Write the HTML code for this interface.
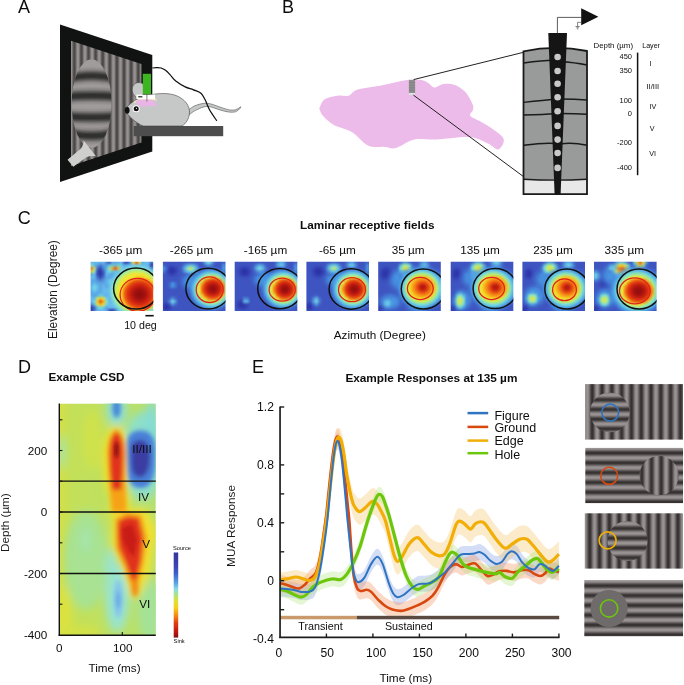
<!DOCTYPE html>
<html><head><meta charset="utf-8"><title>Figure</title>
<style>
html,body{margin:0;padding:0;background:#fff;}
body{width:684px;height:685px;overflow:hidden;}
svg{display:block;font-family:"Liberation Sans", sans-serif;}
</style></head><body>
<svg width="684" height="685" viewBox="0 0 684 685">
<defs>
<linearGradient id="gvE" x1="0" x2="1" y1="0" y2="0"><stop offset="0.0000" stop-color="#9c9796"/><stop offset="0.0833" stop-color="#969190"/><stop offset="0.1667" stop-color="#85807f"/><stop offset="0.2500" stop-color="#6c6766"/><stop offset="0.3333" stop-color="#514d4c"/><stop offset="0.4167" stop-color="#3b3736"/><stop offset="0.5000" stop-color="#302c2b"/><stop offset="0.5833" stop-color="#3b3736"/><stop offset="0.6667" stop-color="#514d4c"/><stop offset="0.7500" stop-color="#6c6766"/><stop offset="0.8333" stop-color="#85807f"/><stop offset="0.9167" stop-color="#969190"/><stop offset="1.0000" stop-color="#9c9796"/></linearGradient>
<linearGradient id="ghE" x1="0" x2="0" y1="0" y2="1"><stop offset="0.0000" stop-color="#9c9796"/><stop offset="0.0833" stop-color="#969190"/><stop offset="0.1667" stop-color="#85807f"/><stop offset="0.2500" stop-color="#6c6766"/><stop offset="0.3333" stop-color="#514d4c"/><stop offset="0.4167" stop-color="#3b3736"/><stop offset="0.5000" stop-color="#302c2b"/><stop offset="0.5833" stop-color="#3b3736"/><stop offset="0.6667" stop-color="#514d4c"/><stop offset="0.7500" stop-color="#6c6766"/><stop offset="0.8333" stop-color="#85807f"/><stop offset="0.9167" stop-color="#969190"/><stop offset="1.0000" stop-color="#9c9796"/></linearGradient>
<linearGradient id="gvA" x1="0" x2="1" y1="0" y2="0"><stop offset="0.0000" stop-color="#9a9695"/><stop offset="0.0833" stop-color="#959190"/><stop offset="0.1667" stop-color="#878483"/><stop offset="0.2500" stop-color="#74706f"/><stop offset="0.3333" stop-color="#5e5b5a"/><stop offset="0.4167" stop-color="#4d4a49"/><stop offset="0.5000" stop-color="#444140"/><stop offset="0.5833" stop-color="#4d4a49"/><stop offset="0.6667" stop-color="#5e5b5a"/><stop offset="0.7500" stop-color="#74706f"/><stop offset="0.8333" stop-color="#878483"/><stop offset="0.9167" stop-color="#959190"/><stop offset="1.0000" stop-color="#9a9695"/></linearGradient>
<linearGradient id="ghA" x1="0" x2="0" y1="0" y2="1"><stop offset="0.0000" stop-color="#9c9897"/><stop offset="0.0833" stop-color="#959190"/><stop offset="0.1667" stop-color="#827f7e"/><stop offset="0.2500" stop-color="#686564"/><stop offset="0.3333" stop-color="#4c4a49"/><stop offset="0.4167" stop-color="#363433"/><stop offset="0.5000" stop-color="#2c2a29"/><stop offset="0.5833" stop-color="#363433"/><stop offset="0.6667" stop-color="#4c4a49"/><stop offset="0.7500" stop-color="#686564"/><stop offset="0.8333" stop-color="#827f7e"/><stop offset="0.9167" stop-color="#959190"/><stop offset="1.0000" stop-color="#9c9897"/></linearGradient>
<pattern id="pAv" patternUnits="userSpaceOnUse" x="106.25" y="0" width="7.1" height="200"><rect width="7.2" height="200" fill="url(#gvA)"/></pattern>
<pattern id="pAh" patternUnits="userSpaceOnUse" x="0" y="67" width="200" height="20"><rect width="200" height="20.1" fill="url(#ghA)"/></pattern>
<clipPath id="clipAscreen"><polygon points="71,40.7 141.4,63.9 141.4,142.6 71,166"/></clipPath>

<clipPath id="clipAell"><ellipse cx="91.6" cy="103.6" rx="20" ry="44.3"/></clipPath><filter id="blA" x="-10%" y="-50%" width="120%" height="200%"><feGaussianBlur stdDeviation="2.9"/></filter>

<radialGradient id="gHalo"><stop offset="0" stop-color="#f6e428"/><stop offset="0.5" stop-color="#f4e62c"/><stop offset="0.58" stop-color="#b4ee74"/><stop offset="0.66" stop-color="#7ce4dc"/><stop offset="0.8" stop-color="#4aa6ea" stop-opacity="0.9"/><stop offset="1" stop-color="#3e54c0" stop-opacity="0"/></radialGradient>
<radialGradient id="gCore"><stop offset="0" stop-color="#860d0c"/><stop offset="0.32" stop-color="#a81210"/><stop offset="0.5" stop-color="#cc2010"/><stop offset="0.7" stop-color="#e43c10"/><stop offset="0.85" stop-color="#f47c14"/><stop offset="0.94" stop-color="#f8c01e" stop-opacity="0.9"/><stop offset="1" stop-color="#f4e42a" stop-opacity="0"/></radialGradient>
<radialGradient id="gCore2"><stop offset="0" stop-color="#7a0b0b"/><stop offset="0.12" stop-color="#b01410"/><stop offset="0.3" stop-color="#de3210"/><stop offset="0.55" stop-color="#f47c14"/><stop offset="0.8" stop-color="#f8b81c" stop-opacity="0.95"/><stop offset="1" stop-color="#f4e42a" stop-opacity="0"/></radialGradient>
<radialGradient id="gSpotY"><stop offset="0" stop-color="#f2e030"/><stop offset="0.3" stop-color="#c8ee60"/><stop offset="0.55" stop-color="#7ce4dc"/><stop offset="0.8" stop-color="#4aa6ea" stop-opacity="0.7"/><stop offset="1" stop-color="#3e54c0" stop-opacity="0"/></radialGradient>
<radialGradient id="gSpotO"><stop offset="0" stop-color="#e23a10"/><stop offset="0.25" stop-color="#f59a14"/><stop offset="0.45" stop-color="#f2e030"/><stop offset="0.68" stop-color="#7ce4dc"/><stop offset="0.85" stop-color="#4aa6ea" stop-opacity="0.7"/><stop offset="1" stop-color="#3e54c0" stop-opacity="0"/></radialGradient>
<radialGradient id="gHaloW"><stop offset="0" stop-color="#f6e428"/><stop offset="0.6" stop-color="#f2e630"/><stop offset="0.7" stop-color="#c0ee68"/><stop offset="0.8" stop-color="#84e6d4"/><stop offset="0.9" stop-color="#6cc4ee" stop-opacity="0.8"/><stop offset="1" stop-color="#62b6ea" stop-opacity="0"/></radialGradient>
<radialGradient id="gSpotCy"><stop offset="0" stop-color="#ece43a"/><stop offset="0.14" stop-color="#b4ec7c"/><stop offset="0.32" stop-color="#80e4dc"/><stop offset="0.68" stop-color="#52a8ea" stop-opacity="0.8"/><stop offset="1" stop-color="#3e54c0" stop-opacity="0"/></radialGradient>
<radialGradient id="gSpotC"><stop offset="0" stop-color="#86e6de"/><stop offset="0.45" stop-color="#5ab8ee" stop-opacity="0.9"/><stop offset="1" stop-color="#3e54c0" stop-opacity="0"/></radialGradient>
<radialGradient id="gSpotL"><stop offset="0" stop-color="#4ea4ea"/><stop offset="0.5" stop-color="#469ae6" stop-opacity="0.8"/><stop offset="1" stop-color="#3e54c0" stop-opacity="0"/></radialGradient>
<radialGradient id="gDark"><stop offset="0" stop-color="#2a2c9e"/><stop offset="0.5" stop-color="#2e38ae" stop-opacity="0.85"/><stop offset="1" stop-color="#3e54c0" stop-opacity="0"/></radialGradient>

<filter id="pix" filterUnits="userSpaceOnUse" x="-3" y="-3" width="71.6" height="58.1" color-interpolation-filters="sRGB">
<feFlood x="-2" y="-2" width="1" height="1"/><feComposite x="-3" y="-3" width="3" height="3"/><feTile result="a"/>
<feComposite in="SourceGraphic" in2="a" operator="in"/><feMorphology operator="dilate" radius="1"/><feGaussianBlur stdDeviation="0.85"/></filter>

<clipPath id="cH0"><rect x="0.60" y="0.80" width="62.6" height="49.1"/></clipPath>
<clipPath id="cH1"><rect x="0.90" y="0.80" width="62.6" height="49.1"/></clipPath>
<clipPath id="cH2"><rect x="0.70" y="0.80" width="62.6" height="49.1"/></clipPath>
<clipPath id="cH3"><rect x="0.40" y="0.80" width="62.6" height="49.1"/></clipPath>
<clipPath id="cH4"><rect x="0.20" y="0.80" width="62.6" height="49.1"/></clipPath>
<clipPath id="cH5"><rect x="0.70" y="0.80" width="62.6" height="49.1"/></clipPath>
<clipPath id="cH6"><rect x="0.40" y="0.80" width="62.6" height="49.1"/></clipPath>
<clipPath id="cH7"><rect x="0.00" y="0.80" width="62.6" height="49.1"/></clipPath>
<clipPath id="cD"><rect x="60" y="403.5" width="95.80000000000001" height="231.5"/></clipPath>
<filter id="blD" x="-20%" y="-20%" width="140%" height="140%"><feGaussianBlur stdDeviation="2.2"/></filter>
<filter id="blD2" x="-20%" y="-20%" width="140%" height="140%"><feGaussianBlur stdDeviation="4"/></filter>
<linearGradient id="gDbg" x1="0" x2="1" y1="0" y2="0"><stop offset="0" stop-color="#d2e048"/><stop offset="0.12" stop-color="#c4e058"/><stop offset="0.5" stop-color="#bee060"/><stop offset="1" stop-color="#b4e070"/></linearGradient>
<linearGradient id="gCbar" x1="0" x2="0" y1="0" y2="1">
<stop offset="0" stop-color="#38349a"/><stop offset="0.16" stop-color="#3a44b0"/><stop offset="0.25" stop-color="#3e62c8"/><stop offset="0.36" stop-color="#5aa4e6"/><stop offset="0.43" stop-color="#86dce6"/><stop offset="0.49" stop-color="#a8e48c"/><stop offset="0.57" stop-color="#dce238"/><stop offset="0.65" stop-color="#f6d018"/><stop offset="0.74" stop-color="#f48a12"/><stop offset="0.83" stop-color="#e43a12"/><stop offset="0.94" stop-color="#b81612"/><stop offset="1" stop-color="#7e1010"/></linearGradient>

<filter id="blD3" x="-30%" y="-30%" width="160%" height="160%"><feGaussianBlur stdDeviation="1.6"/></filter>
<pattern id="pV1" patternUnits="userSpaceOnUse" x="587.30" y="0" width="9.8" height="700"><rect width="9.9" height="700" fill="url(#gvE)"/></pattern>
<pattern id="pH1" patternUnits="userSpaceOnUse" x="0" y="394.85" width="700" height="9.7"><rect width="700" height="9.799999999999999" fill="url(#ghE)"/></pattern>
<pattern id="pH2" patternUnits="userSpaceOnUse" x="0" y="448.10" width="700" height="9.8"><rect width="700" height="9.9" fill="url(#ghE)"/></pattern>
<pattern id="pV2" patternUnits="userSpaceOnUse" x="646.65" y="0" width="9.7" height="700"><rect width="9.799999999999999" height="700" fill="url(#gvE)"/></pattern>
<pattern id="pV3" patternUnits="userSpaceOnUse" x="584.80" y="0" width="9.8" height="700"><rect width="9.9" height="700" fill="url(#gvE)"/></pattern>
<pattern id="pH3" patternUnits="userSpaceOnUse" x="0" y="523.52" width="700" height="9.75"><rect width="700" height="9.85" fill="url(#ghE)"/></pattern>
<pattern id="pH4" patternUnits="userSpaceOnUse" x="0" y="580.80" width="700" height="9.8"><rect width="700" height="9.9" fill="url(#ghE)"/></pattern>
</defs>
<rect width="684" height="685" fill="#ffffff"/>
<text x="18" y="12.8" font-size="18" text-anchor="start" font-weight="normal" fill="#0d0d0d" >A</text>
<polygon points="60,24.5 152.3,55 152.3,151.4 60,182" fill="#111312"/>
<g clip-path="url(#clipAscreen)">
<rect x="60" y="20" width="100" height="170" fill="url(#pAv)"/>
<g clip-path="url(#clipAell)"><rect x="60" y="50" width="70" height="110" fill="#a09c9b"/>
<g filter="url(#blA)" fill="none" stroke="#242221" stroke-width="8.2">
<path d="M62,80 Q91.6,71.5 121,80"/><path d="M62,97 Q91.6,94.4 121,97"/><path d="M62,116.2 Q91.6,118.6 121,116.2"/><path d="M62,131.5 Q91.6,140.2 121,131.5"/>
</g></g>
</g>
<path d="M67.5,159.8 L79.8,149.6 Q83.5,146 83.7,140.4 L96,156.3 Q90,155.5 86,157.5 L73.3,166.8 Z" fill="#cfcfce"/>
<rect x="133.7" y="126" width="89.5" height="10.2" fill="#4d4d4d"/>
<path d="M188.8,109.6C189.4,109.2 191.2,107.8 192.5,107.0C193.8,106.2 195.0,105.6 196.9,105.0C198.8,104.4 201.6,103.5 203.9,103.3C206.2,103.1 208.4,103.3 210.9,103.9C213.4,104.5 216.2,105.8 219.1,106.8C222.0,107.8 225.8,109.2 228.5,109.7C231.2,110.2 233.4,110.2 235.5,109.7C237.6,109.2 239.9,107.3 240.8,106.8 L240.2,108.3C239.4,108.9 237.4,111.2 235.5,111.8C233.6,112.4 231.2,112.3 228.5,112.0C225.8,111.7 222.0,110.5 219.1,109.7C216.2,108.9 213.4,107.4 210.9,106.9C208.4,106.4 206.4,106.3 203.9,106.9C201.4,107.5 197.8,109.3 195.7,110.3C193.6,111.3 192.7,112.2 191.5,113.0C190.3,113.8 189.2,114.8 188.8,115.2 Z" fill="#c6c8c7" stroke="#3a3a3a" stroke-width="0.5" stroke-linejoin="round"/>
<path d="M132.4,91 C131.6,85.5 135,82.3 139.5,82.6 C143.5,83 145,86 144.6,90 C144.2,94 141,97.5 138.5,97.6 C135.5,97.5 133,95 132.4,91 Z" fill="#c6c8c7" stroke="#3a3a3a" stroke-width="0.5"/>
<path d="M125,110 C128,104 136,99 146,96 C156,93 168,92.5 176,95.5 C185,99 190,106 189.5,113 C189,119 186,123.5 182,126 L143,126 C136,123 128,116 125,110 Z" fill="#c6c8c7" stroke="#3a3a3a" stroke-width="0.55"/>
<path d="M133.6,101.6 C137,99 145,97.8 156.3,99 L156.8,100.6 C148,99.6 140,100.2 134.4,102.9 Z" fill="#f3e6b8"/>
<path d="M135.6,101.2 C139,99.6 146,99.4 151.6,99.8 C154.5,101 156.5,104 157.8,106.8 C155.5,105.6 153,105.4 150,106 C147,106.8 144,107 141.5,106.6 C138.5,105.8 136.5,103.5 135.6,101.2 Z" fill="#e9b4e6"/>
<rect x="136.3" y="94.6" width="18.8" height="4.6" fill="#ffffff"/>
<rect x="138.2" y="96.2" width="4.2" height="1.2" fill="#222"/>
<rect x="142.8" y="73.8" width="8.2" height="20.3" fill="#3db522"/>
<line x1="146.9" y1="94" x2="146.9" y2="101.5" stroke="#666" stroke-width="0.8"/>
<ellipse cx="127.2" cy="110.3" rx="2.4" ry="3.4" fill="#111"/>
<circle cx="136.2" cy="108.7" r="3.5" fill="#fff"/>
<circle cx="136.2" cy="108.7" r="2.5" fill="#111"/>
<circle cx="136.5" cy="108.3" r="0.6" fill="#fff"/>
<path d="M152.3,68.0C153.0,67.9 155.1,67.6 156.5,67.6C157.9,67.6 159.5,67.5 161.0,68.0C162.5,68.5 164.0,69.2 165.5,70.3C167.0,71.4 168.3,72.8 170.0,74.6C171.7,76.4 173.3,79.0 175.8,81.1C178.3,83.1 182.3,85.5 185.2,86.9C188.1,88.4 190.8,88.7 193.4,89.8C196.0,90.9 199.1,91.6 201.0,93.3C202.9,95.0 203.6,97.0 205.1,99.8C206.6,102.6 207.9,106.8 209.8,110.3C211.8,113.8 215.6,119.0 216.8,120.8" fill="none" stroke="#111" stroke-width="1.25"/>
<text x="282" y="12.8" font-size="18" text-anchor="start" font-weight="normal" fill="#0d0d0d" >B</text>
<path d="M319.2,108.5C320.1,107.0 321.6,101.4 324.7,99.3C327.8,97.2 333.5,96.3 337.5,95.7C341.5,95.1 345.1,96.7 348.5,95.7C351.9,94.7 352.1,91.2 357.6,89.5C363.1,87.8 373.2,87.1 381.4,85.5C389.6,83.9 400.3,80.9 407.0,80.0C413.7,79.1 418.0,79.4 421.6,80.0C425.2,80.6 426.8,82.3 428.9,83.6C431.0,84.9 432.0,87.5 434.4,87.6C436.8,87.7 440.1,84.5 443.5,84.0C446.9,83.5 450.9,83.4 454.5,84.7C458.1,86.0 462.3,88.7 465.4,92.0C468.4,95.3 471.6,101.8 472.8,104.8C474.0,107.8 473.2,108.5 472.8,110.3C472.4,112.1 469.0,114.0 470.2,115.8C471.4,117.6 475.9,118.9 480.0,121.3C484.1,123.7 490.7,127.4 494.7,130.4C498.7,133.4 503.2,136.3 503.8,139.5C504.4,142.7 501.0,148.8 498.3,149.4C495.6,150.0 492.3,145.3 487.4,143.2C482.5,141.1 477.6,137.6 469.1,137.0C460.6,136.4 445.3,139.1 436.2,139.5C427.1,139.9 421.0,138.1 414.3,139.5C407.6,140.9 400.9,146.8 396.0,148.0C391.1,149.2 389.6,147.3 385.0,146.9C380.4,146.5 374.1,148.2 368.6,145.8C363.1,143.4 357.9,135.7 352.1,132.2C346.3,128.7 338.8,127.6 333.9,124.9C329.0,122.2 325.3,118.5 322.9,115.8C320.4,113.1 319.8,109.7 319.2,108.5Z" fill="#edbbe9"/>
<rect x="408.9" y="79.9" width="6.2" height="14.9" fill="#8e908f"/>
<line x1="408.9" x2="415.1" y1="82.6" y2="82.6" stroke="#757575" stroke-width="0.5"/>
<line x1="408.9" x2="415.1" y1="85.2" y2="85.2" stroke="#757575" stroke-width="0.5"/>
<line x1="408.9" x2="415.1" y1="87.8" y2="87.8" stroke="#757575" stroke-width="0.5"/>
<line x1="408.9" x2="415.1" y1="90.4" y2="90.4" stroke="#757575" stroke-width="0.5"/>
<rect x="408.9" y="93.1" width="6.2" height="1.75" fill="#ececec"/>
<line x1="413.6" y1="79.6" x2="523.5" y2="52.3" stroke="#222" stroke-width="1"/>
<line x1="413.4" y1="95.1" x2="523.5" y2="176.6" stroke="#222" stroke-width="1"/>
<path d="M523.5,51.3 Q555.25,44.6 587,51 L587,194.2 L523.5,194.2 Z" fill="#999b9a"/>
<path d="M523.5,179.2 Q555.25,181 587,179.2 L587,194.2 L523.5,194.2 Z" fill="#e8e8e8"/>
<path d="M523.5,63 Q545,60 555,60.3 M560,61.5 Q575,62.5 587,65" fill="none" stroke="#1a1a1a" stroke-width="1.4"/>
<path d="M523.5,102.4 Q545,100 555,99.2 M560,99 Q575,99 587,100" fill="none" stroke="#1a1a1a" stroke-width="1.4"/>
<path d="M523.5,115 Q545,114.5 555,113.8 M560,113.5 Q575,113.5 587,114.2" fill="none" stroke="#1a1a1a" stroke-width="1.4"/>
<path d="M523.5,145.3 Q545,142.5 555,143.5 M560,144 Q572,142 587,145.2" fill="none" stroke="#1a1a1a" stroke-width="1.4"/>
<path d="M523.5,179.2 Q555.25,181 587,179.2" fill="none" stroke="#1a1a1a" stroke-width="1.4"/>
<path d="M523.5,51.3 Q555.25,44.6 587,51 L587,194.2 L523.5,194.2 Z" fill="none" stroke="#1a1a1a" stroke-width="1.8"/>
<polygon points="548.3,33 567,33 560.6,194.2 554.6,194.2" fill="#151515"/>
<circle cx="557.6" cy="57" r="3.3" fill="#c9c9c9"/>
<circle cx="557.6" cy="71" r="3.3" fill="#c9c9c9"/>
<circle cx="557.6" cy="83.8" r="3.3" fill="#c9c9c9"/>
<circle cx="557.6" cy="97.3" r="3.3" fill="#c9c9c9"/>
<circle cx="557.6" cy="111.3" r="3.3" fill="#c9c9c9"/>
<circle cx="557.6" cy="125.9" r="3.3" fill="#c9c9c9"/>
<circle cx="557.6" cy="139.6" r="3.3" fill="#c9c9c9"/>
<circle cx="557.6" cy="153" r="3.3" fill="#c9c9c9"/>
<circle cx="557.6" cy="167.9" r="3.3" fill="#c9c9c9"/>
<path d="M557.4,33 L557.4,17.4 L581.5,17.4" fill="none" stroke="#333" stroke-width="0.8"/>
<polygon points="581.2,8.3 581.2,25.2 598.4,16.8" fill="#111"/>
<path d="M581.2,22.3 L577.6,22.3 L577.6,26.5 M575.5,26.5 L579.7,26.5 M576.3,27.8 L578.9,27.8 M577,29 L578.2,29" fill="none" stroke="#333" stroke-width="0.6"/>
<text x="593.5" y="47.6" font-size="7.2" text-anchor="start" font-weight="normal" fill="#0d0d0d" textLength="39.5" lengthAdjust="spacingAndGlyphs">Depth (µm)</text>
<text x="642.2" y="47.6" font-size="7.2" text-anchor="start" font-weight="normal" fill="#0d0d0d" textLength="17.8" lengthAdjust="spacingAndGlyphs">Layer</text>
<text x="632" y="59.3" font-size="7.5" text-anchor="end" font-weight="normal" fill="#0d0d0d" >450</text>
<text x="632" y="73" font-size="7.5" text-anchor="end" font-weight="normal" fill="#0d0d0d" >350</text>
<text x="632" y="102.5" font-size="7.5" text-anchor="end" font-weight="normal" fill="#0d0d0d" >100</text>
<text x="632" y="116.2" font-size="7.5" text-anchor="end" font-weight="normal" fill="#0d0d0d" >0</text>
<text x="632" y="144.6" font-size="7.5" text-anchor="end" font-weight="normal" fill="#0d0d0d" >-200</text>
<text x="632" y="170.3" font-size="7.5" text-anchor="end" font-weight="normal" fill="#0d0d0d" >-400</text>
<line x1="637.6" y1="52.6" x2="637.6" y2="175.2" stroke="#111" stroke-width="1.5"/>
<text x="650.4" y="65.7" font-size="7.2" text-anchor="middle" font-weight="normal" fill="#0d0d0d" >I</text>
<text x="652.8" y="89" font-size="7.2" text-anchor="middle" font-weight="normal" fill="#0d0d0d" textLength="12.6" lengthAdjust="spacingAndGlyphs">II/III</text>
<text x="653" y="108.6" font-size="7.2" text-anchor="middle" font-weight="normal" fill="#0d0d0d" >IV</text>
<text x="652.2" y="130.5" font-size="7.2" text-anchor="middle" font-weight="normal" fill="#0d0d0d" >V</text>
<text x="652.6" y="156.3" font-size="7.2" text-anchor="middle" font-weight="normal" fill="#0d0d0d" >VI</text>
<text x="17.8" y="223.5" font-size="18" text-anchor="start" font-weight="normal" fill="#0d0d0d" >C</text>
<text x="367.3" y="228.5" font-size="11.75" text-anchor="middle" font-weight="bold" fill="#0d0d0d" >Laminar receptive fields</text>
<text transform="translate(56.7,289.6) rotate(-90)" font-size="11.85" text-anchor="middle" fill="#1a1a1a">Elevation (Degree)</text>
<text x="379.8" y="339" font-size="11.75" text-anchor="middle" font-weight="normal" fill="#0d0d0d" >Azimuth (Degree)</text>
<rect x="145.4" y="314.9" width="8.3" height="1.6" fill="#111"/>
<text x="124.2" y="329.2" font-size="10.5" text-anchor="start" font-weight="normal" fill="#0d0d0d" textLength="32.6" lengthAdjust="spacingAndGlyphs">10 deg</text>
<text x="120.7" y="253.8" font-size="11.75" text-anchor="middle" font-weight="normal" fill="#0d0d0d" >-365 µm</text>
<g transform="translate(90,261)"><g clip-path="url(#cH0)">
<g filter="url(#pix)">
<rect x="-3" y="-3" width="71.6" height="58.1" fill="#66baec"/>
<ellipse cx="10.4" cy="11.8" rx="6" ry="11" fill="url(#gDark)"/>
<ellipse cx="1.6" cy="47.8" rx="5" ry="6" fill="url(#gDark)"/>
<ellipse cx="62.1" cy="5.8" rx="4" ry="8" fill="url(#gDark)"/>
<ellipse cx="22.6" cy="49.8" rx="7" ry="3" fill="url(#gDark)"/>
<ellipse cx="36.6" cy="0.8" rx="5" ry="3" fill="url(#gDark)"/>
<ellipse cx="18.6" cy="2.8" rx="4" ry="3" fill="url(#gDark)"/>
<ellipse cx="30.6" cy="32.8" rx="14" ry="12" fill="url(#gSpotC)"/>
<ellipse cx="4.6" cy="26.8" rx="8" ry="10" fill="url(#gSpotC)"/>
<ellipse cx="20.6" cy="20.8" rx="9" ry="7" fill="url(#gSpotC)"/>
<ellipse cx="25.2" cy="7.8" rx="14" ry="7" fill="url(#gSpotY)"/>
<ellipse cx="25.2" cy="7.7" rx="9.5" ry="3.6" fill="url(#gSpotO)"/>
<ellipse cx="1.9" cy="8.2" rx="5" ry="6" fill="url(#gSpotO)"/>
<ellipse cx="46.6" cy="1.3" rx="7" ry="5" fill="url(#gSpotO)"/>
<ellipse cx="10.8" cy="40.7" rx="9" ry="8.5" fill="url(#gSpotO)"/>
<ellipse cx="47.1" cy="30.3" rx="31" ry="29" fill="url(#gHaloW)"/>
<ellipse cx="49.6" cy="33.3" rx="19" ry="18" fill="url(#gCore)"/>
</g>
<ellipse cx="47.6" cy="33.8" rx="17.5" ry="16.5" fill="none" stroke="#e0241a" stroke-width="1.3"/>
<ellipse cx="46.1" cy="27.6" rx="22.5" ry="20.5" fill="none" stroke="#111" stroke-width="1.5"/>
</g></g>
<text x="191.5" y="253.8" font-size="11.75" text-anchor="middle" font-weight="normal" fill="#0d0d0d" >-265 µm</text>
<g transform="translate(162,261)"><g clip-path="url(#cH1)">
<g filter="url(#pix)">
<rect x="-3" y="-3" width="71.6" height="58.1" fill="#3e54c0"/>
<ellipse cx="9.9" cy="9.8" rx="8" ry="7" fill="url(#gDark)"/>
<ellipse cx="4.9" cy="45.8" rx="7" ry="6" fill="url(#gDark)"/>
<ellipse cx="30.9" cy="20.8" rx="16" ry="12" fill="url(#gSpotL)"/>
<ellipse cx="1.9" cy="7.8" rx="4" ry="5" fill="url(#gSpotL)"/>
<ellipse cx="10.8" cy="24.1" rx="5" ry="5" fill="url(#gSpotL)"/>
<ellipse cx="28.7" cy="7.7" rx="11" ry="7" fill="url(#gSpotCy)"/>
<ellipse cx="10.8" cy="40.5" rx="5.5" ry="5.5" fill="url(#gSpotC)"/>
<ellipse cx="46.6" cy="1.6" rx="8" ry="5" fill="url(#gSpotC)"/>
<ellipse cx="62.4" cy="6.8" rx="4" ry="8" fill="url(#gSpotL)"/>
<ellipse cx="49.4" cy="28.3" rx="24.5" ry="23.5" fill="url(#gHalo)"/>
<ellipse cx="50.9" cy="27.8" rx="13.5" ry="12.5" fill="url(#gCore)"/>
</g>
<ellipse cx="47.7" cy="28.7" rx="13.5" ry="12.8" fill="none" stroke="#e0241a" stroke-width="1.3"/>
<ellipse cx="46.2" cy="27.6" rx="22.3" ry="20.4" fill="none" stroke="#111" stroke-width="1.5"/>
</g></g>
<text x="265.5" y="253.8" font-size="11.75" text-anchor="middle" font-weight="normal" fill="#0d0d0d" >-165 µm</text>
<g transform="translate(234,261)"><g clip-path="url(#cH2)">
<g filter="url(#pix)">
<rect x="-3" y="-3" width="71.6" height="58.1" fill="#3e54c0"/>
<ellipse cx="10.7" cy="10.8" rx="9" ry="8" fill="url(#gDark)"/>
<ellipse cx="8.7" cy="43.8" rx="9" ry="7" fill="url(#gDark)"/>
<ellipse cx="30.7" cy="18.8" rx="16" ry="11" fill="url(#gSpotL)"/>
<ellipse cx="26.0" cy="7.2" rx="9" ry="6.5" fill="url(#gSpotC)"/>
<ellipse cx="47.0" cy="3.3" rx="8" ry="5" fill="url(#gSpotC)"/>
<ellipse cx="11.9" cy="39.9" rx="4.5" ry="4.5" fill="url(#gSpotC)"/>
<ellipse cx="62.2" cy="6.8" rx="4" ry="8" fill="url(#gSpotL)"/>
<ellipse cx="49.2" cy="28.3" rx="23.5" ry="22.5" fill="url(#gHalo)"/>
<ellipse cx="51.0" cy="28.2" rx="12.6" ry="12" fill="url(#gCore)"/>
</g>
<ellipse cx="48.2" cy="28.7" rx="13.1" ry="11.5" fill="none" stroke="#e0241a" stroke-width="1.3"/>
<ellipse cx="45.9" cy="27.6" rx="22.2" ry="20.2" fill="none" stroke="#111" stroke-width="1.5"/>
</g></g>
<text x="337.3" y="253.8" font-size="11.75" text-anchor="middle" font-weight="normal" fill="#0d0d0d" >-65 µm</text>
<g transform="translate(306,261)"><g clip-path="url(#cH3)">
<g filter="url(#pix)">
<rect x="-3" y="-3" width="71.6" height="58.1" fill="#3e54c0"/>
<ellipse cx="12.4" cy="10.8" rx="9" ry="8" fill="url(#gDark)"/>
<ellipse cx="3.4" cy="45.8" rx="6" ry="6" fill="url(#gDark)"/>
<ellipse cx="30.4" cy="18.8" rx="16" ry="11" fill="url(#gSpotL)"/>
<ellipse cx="27.8" cy="7.2" rx="10" ry="7" fill="url(#gSpotCy)"/>
<ellipse cx="45.4" cy="3.8" rx="8" ry="5" fill="url(#gSpotC)"/>
<ellipse cx="10.2" cy="39.9" rx="5.5" ry="7" fill="url(#gSpotC)"/>
<ellipse cx="61.9" cy="6.8" rx="4" ry="8" fill="url(#gSpotL)"/>
<ellipse cx="46.9" cy="28.3" rx="24" ry="23" fill="url(#gHalo)"/>
<ellipse cx="48.2" cy="28.2" rx="12.6" ry="12" fill="url(#gCore)"/>
</g>
<ellipse cx="46.0" cy="28.7" rx="13.5" ry="12" fill="none" stroke="#e0241a" stroke-width="1.3"/>
<ellipse cx="45.3" cy="28.0" rx="22.2" ry="20.2" fill="none" stroke="#111" stroke-width="1.5"/>
</g></g>
<text x="408.2" y="253.8" font-size="11.75" text-anchor="middle" font-weight="normal" fill="#0d0d0d" >35 µm</text>
<g transform="translate(378,261)"><g clip-path="url(#cH4)">
<g filter="url(#pix)">
<rect x="-3" y="-3" width="71.6" height="58.1" fill="#3e54c0"/>
<ellipse cx="8.2" cy="12.8" rx="9" ry="10" fill="url(#gDark)"/>
<ellipse cx="2.2" cy="46.8" rx="5" ry="5" fill="url(#gDark)"/>
<ellipse cx="24.2" cy="18.8" rx="18" ry="16" fill="url(#gSpotL)"/>
<ellipse cx="12.2" cy="40.8" rx="15" ry="11" fill="url(#gSpotL)"/>
<ellipse cx="40.2" cy="46.8" rx="16" ry="6" fill="url(#gSpotL)"/>
<ellipse cx="27.6" cy="7.2" rx="9" ry="7.5" fill="url(#gSpotY)"/>
<ellipse cx="27.2" cy="14.8" rx="6" ry="8" fill="url(#gSpotC)"/>
<ellipse cx="9.5" cy="42.3" rx="7" ry="7" fill="url(#gSpotC)"/>
<ellipse cx="46.2" cy="3.8" rx="8" ry="5" fill="url(#gSpotC)"/>
<ellipse cx="60.2" cy="25.8" rx="8" ry="20" fill="url(#gSpotL)"/>
<ellipse cx="43.7" cy="27.3" rx="26.5" ry="24.5" fill="url(#gHalo)"/>
<ellipse cx="44.8" cy="26.4" rx="14.5" ry="13" fill="url(#gCore2)"/>
</g>
<ellipse cx="42.3" cy="27.5" rx="12.9" ry="11.1" fill="none" stroke="#e0241a" stroke-width="1.3"/>
<ellipse cx="45.3" cy="28.0" rx="22" ry="20" fill="none" stroke="#111" stroke-width="1.5"/>
</g></g>
<text x="480" y="253.8" font-size="11.75" text-anchor="middle" font-weight="normal" fill="#0d0d0d" >135 µm</text>
<g transform="translate(450,261)"><g clip-path="url(#cH5)">
<g filter="url(#pix)">
<rect x="-3" y="-3" width="71.6" height="58.1" fill="#3e54c0"/>
<ellipse cx="6.7" cy="12.8" rx="7" ry="9" fill="url(#gDark)"/>
<ellipse cx="2.7" cy="47.8" rx="4" ry="4" fill="url(#gDark)"/>
<ellipse cx="24.7" cy="16.8" rx="18" ry="15" fill="url(#gSpotL)"/>
<ellipse cx="12.7" cy="38.8" rx="13" ry="14" fill="url(#gSpotL)"/>
<ellipse cx="40.7" cy="46.8" rx="16" ry="6" fill="url(#gSpotL)"/>
<ellipse cx="28.1" cy="7.2" rx="10" ry="8.5" fill="url(#gSpotY)"/>
<ellipse cx="24.7" cy="15.8" rx="6" ry="8" fill="url(#gSpotC)"/>
<ellipse cx="10.1" cy="39.9" rx="7" ry="11" fill="url(#gSpotY)"/>
<ellipse cx="46.3" cy="2.3" rx="9" ry="6" fill="url(#gSpotC)"/>
<ellipse cx="60.7" cy="25.8" rx="8" ry="20" fill="url(#gSpotL)"/>
<ellipse cx="43.2" cy="27.3" rx="26.5" ry="24.5" fill="url(#gHalo)"/>
<ellipse cx="45.3" cy="26.4" rx="14.5" ry="13" fill="url(#gCore2)"/>
</g>
<ellipse cx="41.6" cy="27.5" rx="12.9" ry="11.1" fill="none" stroke="#e0241a" stroke-width="1.3"/>
<ellipse cx="45.1" cy="27.6" rx="22" ry="20" fill="none" stroke="#111" stroke-width="1.5"/>
</g></g>
<text x="553" y="253.8" font-size="11.75" text-anchor="middle" font-weight="normal" fill="#0d0d0d" >235 µm</text>
<g transform="translate(522,261)"><g clip-path="url(#cH6)">
<g filter="url(#pix)">
<rect x="-3" y="-3" width="71.6" height="58.1" fill="#3e54c0"/>
<ellipse cx="6.9" cy="12.8" rx="6" ry="8" fill="url(#gDark)"/>
<ellipse cx="2.4" cy="47.8" rx="5" ry="5" fill="url(#gDark)"/>
<ellipse cx="26.4" cy="18.8" rx="19" ry="16" fill="url(#gSpotL)"/>
<ellipse cx="12.4" cy="34.8" rx="15" ry="14" fill="url(#gSpotL)"/>
<ellipse cx="40.4" cy="46.8" rx="16" ry="6" fill="url(#gSpotL)"/>
<ellipse cx="28.0" cy="7.2" rx="10" ry="8" fill="url(#gSpotY)"/>
<ellipse cx="32.4" cy="14.8" rx="7" ry="6" fill="url(#gSpotC)"/>
<ellipse cx="10.4" cy="37.6" rx="8" ry="8" fill="url(#gSpotY)"/>
<ellipse cx="46.4" cy="3.8" rx="9" ry="6" fill="url(#gSpotC)"/>
<ellipse cx="60.4" cy="25.8" rx="8" ry="20" fill="url(#gSpotL)"/>
<ellipse cx="43.9" cy="27.8" rx="25.5" ry="23.5" fill="url(#gHalo)"/>
<ellipse cx="45.0" cy="26.6" rx="13.8" ry="12.5" fill="url(#gCore2)"/>
</g>
<ellipse cx="42.5" cy="28.7" rx="11.9" ry="10.9" fill="none" stroke="#e0241a" stroke-width="1.3"/>
<ellipse cx="44.8" cy="28.0" rx="22" ry="20" fill="none" stroke="#111" stroke-width="1.5"/>
</g></g>
<text x="624.3" y="253.8" font-size="11.75" text-anchor="middle" font-weight="normal" fill="#0d0d0d" >335 µm</text>
<g transform="translate(594,261)"><g clip-path="url(#cH7)">
<g filter="url(#pix)">
<rect x="-3" y="-3" width="71.6" height="58.1" fill="#3e54c0"/>
<ellipse cx="10.0" cy="22.8" rx="7" ry="8" fill="url(#gDark)"/>
<ellipse cx="2.0" cy="47.8" rx="5" ry="4" fill="url(#gDark)"/>
<ellipse cx="22.0" cy="14.8" rx="21" ry="16" fill="url(#gSpotL)"/>
<ellipse cx="12.0" cy="36.8" rx="15" ry="14" fill="url(#gSpotL)"/>
<ellipse cx="38.0" cy="46.8" rx="18" ry="6" fill="url(#gSpotL)"/>
<ellipse cx="1.6" cy="14.8" rx="6" ry="8" fill="url(#gSpotC)"/>
<ellipse cx="27.4" cy="7.9" rx="12" ry="9" fill="url(#gSpotO)"/>
<ellipse cx="18.0" cy="6.8" rx="7" ry="5" fill="url(#gSpotC)"/>
<ellipse cx="46.1" cy="2.0" rx="8" ry="6" fill="url(#gSpotO)"/>
<ellipse cx="10.4" cy="38.8" rx="8" ry="9" fill="url(#gSpotY)"/>
<ellipse cx="60.0" cy="25.8" rx="8" ry="20" fill="url(#gSpotL)"/>
<ellipse cx="43.0" cy="29.8" rx="30" ry="27" fill="url(#gHalo)"/>
<ellipse cx="44.5" cy="30.1" rx="16" ry="14" fill="url(#gCore)"/>
</g>
<ellipse cx="40.8" cy="29.9" rx="15.3" ry="13" fill="none" stroke="#e0241a" stroke-width="1.3"/>
<ellipse cx="45.0" cy="28.0" rx="22" ry="20" fill="none" stroke="#111" stroke-width="1.5"/>
</g></g>
<text x="18" y="373.2" font-size="18" text-anchor="start" font-weight="normal" fill="#0d0d0d" >D</text>
<text x="48.5" y="380.5" font-size="11.7" text-anchor="start" font-weight="bold" fill="#0d0d0d" >Example CSD</text>
<g clip-path="url(#cD)">
<rect x="60" y="403.5" width="95.80000000000001" height="231.5" fill="url(#gDbg)"/>
<g filter="url(#blD2)">
<ellipse cx="86" cy="560" rx="22" ry="50" fill="#a8e292"/>
<ellipse cx="150" cy="610" rx="12" ry="30" fill="#a4e298"/>
<ellipse cx="64" cy="615" rx="7" ry="30" fill="#dce23c"/>
<ellipse cx="80" cy="632" rx="20" ry="6" fill="#d4e244"/>
<ellipse cx="92" cy="440" rx="10" ry="30" fill="#cfe24c"/>
<ellipse cx="62" cy="452" rx="4" ry="18" fill="#a4e4b0"/>
<ellipse cx="85.6" cy="540" rx="3.5" ry="12" fill="#a4e6b8"/>
<ellipse cx="143" cy="456" rx="21" ry="44" fill="#8ee0c8"/>
<ellipse cx="152" cy="440" rx="8" ry="40" fill="#86dcd4"/>
<ellipse cx="117" cy="598" rx="12" ry="34" fill="#98e4d0"/>
<ellipse cx="111" cy="565" rx="5" ry="16" fill="#98e4d0"/>
<ellipse cx="116.6" cy="410" rx="10" ry="17" fill="#8ee0d4"/>
<ellipse cx="116" cy="462" rx="13" ry="37" fill="#f2e02c"/>
<ellipse cx="119.5" cy="505" rx="9.5" ry="22" fill="#f2e02c"/>
<path d="M113,512 L146,508 L158,530 L150,575 L139,597 L131,597 L122,565 L112,545 Z" fill="#f0e030"/>
</g>
<g filter="url(#blD)">
<path d="M127,441 Q129,430 140,430.5 Q155,430 155.5,450 L155,468 Q153,488 141,488 Q131,488 128.5,478 Q126.5,462 127,441 Z" fill="#4a80d8"/>
<path d="M131,447 Q133,439.5 141,440 Q149.5,441 150,456 Q150,473 142.5,477 Q133.5,479 131.5,468 Z" fill="#3a3ca2"/>
<ellipse cx="116.6" cy="408" rx="4.2" ry="10" fill="#4a88d8"/>
<ellipse cx="118.2" cy="599" rx="4.4" ry="19" fill="#86c4ec"/>
<ellipse cx="118.2" cy="600" rx="2.2" ry="9" fill="#64a6e2"/>
<path d="M116.4,429 Q126,435 125.5,456 Q125,480 126.5,512 L112,512 Q108.5,480 107.5,456 Q107,435 116.4,429 Z" fill="#f6a216"/>
<path d="M116.4,432 Q123.6,437 123.2,456 Q122.6,476 121,490 L112.6,490 Q110.2,476 109.7,456 Q109.3,437 116.4,432 Z" fill="#e0301a"/>
<path d="M115.5,518.5 L128,512.5 L141.5,515 L147,538 L143.5,563 L138,586 L131,586 L123.5,565 L116,549 Z" fill="#f6a216"/>
<path d="M118.3,521 L127.5,516.5 L138.5,518 L143,538 L140.5,561 L136.2,580 L132,580 L126,563 L119.3,548 L118,535 Z" fill="#e0301a"/>
<ellipse cx="135" cy="588" rx="3.5" ry="9" fill="#f28a14"/>
</g>
<g filter="url(#blD3)">
<ellipse cx="116.4" cy="450" rx="1.8" ry="8" fill="#7e1010"/>
<path d="M122,528 L132,524 L137,540 L134,556 L129,552 L123,540 Z" fill="#c81c14"/>
</g>
</g>
<line x1="60" x2="155.8" y1="481.2" y2="481.2" stroke="#111" stroke-width="1.3"/>
<line x1="60" x2="155.8" y1="512.0" y2="512.0" stroke="#111" stroke-width="1.3"/>
<line x1="60" x2="155.8" y1="573.5" y2="573.5" stroke="#111" stroke-width="1.3"/>
<line x1="59.3" x2="59.3" y1="403.5" y2="635.8" stroke="#111" stroke-width="1.4"/>
<line x1="58.6" x2="155.8" y1="635.2" y2="635.2" stroke="#111" stroke-width="1.4"/>
<line x1="59.3" x2="62.4" y1="419.8" y2="419.8" stroke="#111" stroke-width="1.1"/>
<line x1="59.3" x2="62.4" y1="450.5" y2="450.5" stroke="#111" stroke-width="1.1"/>
<line x1="59.3" x2="62.4" y1="481.2" y2="481.2" stroke="#111" stroke-width="1.1"/>
<line x1="59.3" x2="62.4" y1="512.0" y2="512.0" stroke="#111" stroke-width="1.1"/>
<line x1="59.3" x2="62.4" y1="542.8" y2="542.8" stroke="#111" stroke-width="1.1"/>
<line x1="59.3" x2="62.4" y1="573.5" y2="573.5" stroke="#111" stroke-width="1.1"/>
<line x1="59.3" x2="62.4" y1="604.2" y2="604.2" stroke="#111" stroke-width="1.1"/>
<line x1="122.3" x2="122.3" y1="635" y2="632" stroke="#111" stroke-width="1.1"/>
<text x="47.3" y="454.7" font-size="11.7" text-anchor="end" font-weight="normal" fill="#0d0d0d" >200</text>
<text x="47.3" y="516.2" font-size="11.7" text-anchor="end" font-weight="normal" fill="#0d0d0d" >0</text>
<text x="47.3" y="577.7" font-size="11.7" text-anchor="end" font-weight="normal" fill="#0d0d0d" >-200</text>
<text x="47.3" y="639.2" font-size="11.7" text-anchor="end" font-weight="normal" fill="#0d0d0d" >-400</text>
<text x="59.2" y="651.8" font-size="11.7" text-anchor="middle" font-weight="normal" fill="#0d0d0d" >0</text>
<text x="122.8" y="651.8" font-size="11.7" text-anchor="middle" font-weight="normal" fill="#0d0d0d" >100</text>
<text x="114.5" y="671.5" font-size="11.7" text-anchor="middle" font-weight="normal" fill="#0d0d0d" >Time (ms)</text>
<text transform="translate(8.8,522.6) rotate(-90)" font-size="11.7" text-anchor="middle" fill="#1a1a1a">Depth (µm)</text>
<text x="142" y="453" font-size="11.8" text-anchor="middle" font-weight="normal" fill="#0d0d0d" >II/III</text>
<text x="143.5" y="501" font-size="11.7" text-anchor="middle" font-weight="normal" fill="#0d0d0d" >IV</text>
<text x="146.2" y="548.1" font-size="11.7" text-anchor="middle" font-weight="normal" fill="#0d0d0d" >V</text>
<text x="144.7" y="608" font-size="11.7" text-anchor="middle" font-weight="normal" fill="#0d0d0d" >VI</text>
<rect x="173.7" y="552.5" width="4.5" height="85.1" fill="url(#gCbar)"/>
<text x="173" y="550.4" font-size="5.7" text-anchor="start" font-weight="normal" fill="#0d0d0d" >Source</text>
<text x="173.6" y="643.4" font-size="5.7" text-anchor="start" font-weight="normal" fill="#0d0d0d" >Sink</text>
<text x="251.9" y="373.2" font-size="18" text-anchor="start" font-weight="normal" fill="#0d0d0d" >E</text>
<text x="431.4" y="381.7" font-size="11.8" text-anchor="middle" font-weight="bold" fill="#0d0d0d" >Example Responses at 135 µm</text>
<path d="M280.0,580.4C281.5,580.5 286.3,581.0 288.8,581.3C291.3,581.6 293.0,581.8 295.0,582.2C297.0,582.6 298.5,583.7 301.0,583.9C303.5,584.1 307.5,584.3 309.8,583.6C312.1,582.9 313.4,582.7 315.0,579.5C316.6,576.3 318.0,571.5 319.5,564.6C321.0,557.7 322.6,547.1 323.9,538.3C325.2,529.5 326.5,520.0 327.4,512.0C328.3,504.0 328.8,497.4 329.5,490.2C330.2,483.0 330.8,475.3 331.5,468.6C332.2,461.9 332.8,455.2 333.5,450.0C334.2,444.8 334.8,440.2 335.5,437.4C336.2,434.6 336.8,433.0 337.5,433.0C338.2,433.0 338.8,434.6 339.5,437.4C340.2,440.2 340.8,444.6 341.5,449.7C342.2,454.8 342.8,461.5 343.5,468.1C344.2,474.7 344.8,482.1 345.5,489.4C346.2,496.7 346.7,503.9 347.5,512.0C348.3,520.1 349.3,530.1 350.2,538.3C351.1,546.5 351.9,555.7 352.8,561.1C353.7,566.5 354.5,568.6 355.4,570.8C356.3,573.0 356.9,574.4 358.4,574.3C359.9,574.1 362.1,573.0 364.2,569.9C366.3,566.8 369.0,559.4 371.2,555.9C373.4,552.4 375.5,548.8 377.4,548.8C379.3,548.8 380.7,551.5 382.6,555.9C384.5,560.3 387.0,570.2 388.8,575.2C390.6,580.2 391.8,583.3 393.2,585.6C394.6,587.9 395.8,589.0 397.5,589.2C399.2,589.4 400.9,588.6 403.4,587.0C405.8,585.4 409.6,581.5 412.2,579.7C414.8,577.9 416.5,576.8 418.7,576.1C420.9,575.5 423.2,576.0 425.3,575.8C427.4,575.5 429.0,575.6 431.2,574.6C433.4,573.6 436.1,571.3 438.5,569.5C440.9,567.7 443.4,566.0 445.8,563.6C448.2,561.2 450.7,557.7 453.1,554.9C455.5,552.1 458.0,548.3 460.4,546.8C462.8,545.3 465.4,546.3 467.7,546.1C470.0,545.9 472.4,545.8 474.4,545.4C476.4,545.0 477.8,543.7 479.5,543.9C481.2,544.1 482.8,545.3 484.6,546.8C486.4,548.3 488.6,551.2 490.5,552.7C492.4,554.2 494.4,555.9 496.3,556.0C498.2,556.1 500.4,555.0 502.2,553.4C504.0,551.8 505.7,547.8 507.3,546.1C508.9,544.4 510.1,543.2 511.7,543.2C513.3,543.2 515.0,544.2 516.8,546.1C518.6,548.0 520.6,552.6 522.6,554.9C524.6,557.2 526.5,558.9 528.5,560.0C530.5,561.1 532.5,562.0 534.3,561.4C536.1,560.8 537.7,556.9 539.4,556.3C541.1,555.6 542.9,556.6 544.6,557.5C546.3,558.4 548.2,560.5 549.7,561.4C551.2,562.3 551.8,563.5 553.3,562.9C554.8,562.3 558.0,558.6 558.9,557.8L558.9,573.8C558.0,574.6 554.8,578.3 553.3,578.9C551.8,579.5 551.2,578.3 549.7,577.4C548.2,576.5 546.3,574.4 544.6,573.5C542.9,572.6 541.1,571.6 539.4,572.3C537.7,572.9 536.1,576.8 534.3,577.4C532.5,578.0 530.5,577.1 528.5,576.0C526.5,574.9 524.6,573.2 522.6,570.9C520.6,568.6 518.6,564.0 516.8,562.1C515.0,560.2 513.3,559.2 511.7,559.2C510.1,559.2 508.9,560.4 507.3,562.1C505.7,563.8 504.0,567.8 502.2,569.4C500.4,571.0 498.2,572.1 496.3,572.0C494.4,571.9 492.4,570.2 490.5,568.7C488.6,567.2 486.4,564.3 484.6,562.8C482.8,561.3 481.2,560.1 479.5,559.9C477.8,559.7 476.4,561.0 474.4,561.4C472.4,561.8 470.0,561.9 467.7,562.1C465.4,562.3 462.8,561.3 460.4,562.8C458.0,564.3 455.5,568.1 453.1,570.9C450.7,573.7 448.2,577.2 445.8,579.6C443.4,582.0 440.9,583.7 438.5,585.5C436.1,587.3 433.4,589.6 431.2,590.6C429.0,591.6 427.4,591.5 425.3,591.8C423.2,592.0 420.9,591.5 418.7,592.1C416.5,592.8 414.8,593.9 412.2,595.7C409.6,597.5 405.8,601.4 403.4,603.0C400.9,604.6 399.2,605.4 397.5,605.2C395.8,605.0 394.6,603.9 393.2,601.6C391.8,599.3 390.6,596.2 388.8,591.2C387.0,586.2 384.5,576.3 382.6,571.9C380.7,567.5 379.3,564.8 377.4,564.8C375.5,564.8 373.4,568.4 371.2,571.9C369.0,575.4 366.3,582.8 364.2,585.9C362.1,589.0 359.9,590.1 358.4,590.3C356.9,590.4 356.3,589.0 355.4,586.8C354.5,584.6 353.7,582.5 352.8,577.1C351.9,571.7 351.1,562.5 350.2,554.3C349.3,546.1 348.3,536.1 347.5,528.0C346.7,519.9 346.2,512.7 345.5,505.4C344.8,498.1 344.2,490.7 343.5,484.1C342.8,477.5 342.2,470.8 341.5,465.7C340.8,460.6 340.2,456.2 339.5,453.4C338.8,450.6 338.2,449.0 337.5,449.0C336.8,449.0 336.2,450.6 335.5,453.4C334.8,456.2 334.2,460.8 333.5,466.0C332.8,471.2 332.2,477.9 331.5,484.6C330.8,491.3 330.2,499.0 329.5,506.2C328.8,513.4 328.3,520.0 327.4,528.0C326.5,536.0 325.2,545.5 323.9,554.3C322.6,563.1 321.0,573.7 319.5,580.6C318.0,587.5 316.6,592.3 315.0,595.5C313.4,598.7 312.1,598.9 309.8,599.6C307.5,600.3 303.5,600.1 301.0,599.9C298.5,599.7 297.0,598.6 295.0,598.2C293.0,597.8 291.3,597.6 288.8,597.3C286.3,597.0 281.5,596.5 280.0,596.4Z" fill="#6f8fe0" fill-opacity="0.3"/>
<path d="M280.0,574.7C281.2,575.0 284.7,575.7 287.0,576.4C289.3,577.1 291.9,578.4 294.0,579.0C296.1,579.6 297.5,580.3 299.3,579.9C301.1,579.5 302.9,578.0 304.6,576.4C306.4,574.8 307.9,572.3 309.8,570.3C311.7,568.2 314.2,568.0 316.0,564.1C317.8,560.2 318.8,555.4 320.4,546.6C322.0,537.8 324.4,520.2 325.6,511.5C326.8,502.8 326.9,500.2 327.5,494.1C328.1,488.0 328.8,481.1 329.5,474.8C330.2,468.6 330.8,462.2 331.5,456.6C332.2,451.1 332.8,445.7 333.5,441.5C334.2,437.3 334.8,433.8 335.5,431.5C336.2,429.2 336.8,428.0 337.5,428.0C338.2,428.0 338.8,429.2 339.5,431.5C340.2,433.8 340.8,437.3 341.5,441.5C342.2,445.7 342.8,451.1 343.5,456.6C344.2,462.2 344.8,468.6 345.5,474.8C346.2,481.1 346.9,488.0 347.5,494.1C348.1,500.2 348.7,504.2 349.3,511.5C349.9,518.8 350.4,528.4 351.1,537.8C351.8,547.1 352.7,560.6 353.7,567.6C354.7,574.6 356.0,577.4 357.2,579.9C358.4,582.4 359.1,582.3 360.7,582.5C362.3,582.7 365.1,581.1 366.8,581.3C368.6,581.4 369.3,581.7 371.2,583.4C373.1,585.1 375.8,588.9 378.2,591.3C380.6,593.6 382.9,595.9 385.3,597.5C387.7,599.1 389.7,600.2 392.3,601.0C394.9,601.8 398.4,602.5 401.2,602.4C404.0,602.3 406.4,601.2 409.2,600.2C412.0,599.2 415.3,597.8 418.0,596.6C420.7,595.4 422.9,594.5 425.3,592.9C427.7,591.3 430.4,589.5 432.6,587.1C434.8,584.7 436.6,581.7 438.5,578.3C440.4,574.9 442.4,569.9 444.3,566.6C446.2,563.3 448.2,560.3 450.2,558.5C452.1,556.7 454.1,555.6 456.0,555.6C457.9,555.6 459.9,558.4 461.9,558.5C463.8,558.6 465.5,557.0 467.7,556.4C469.9,555.8 472.7,554.0 475.0,554.9C477.3,555.8 479.6,559.6 481.7,561.7C483.8,563.8 485.6,566.8 487.5,567.5C489.4,568.2 491.4,566.9 493.4,566.1C495.3,565.3 497.0,563.4 499.2,562.8C501.4,562.2 504.1,562.2 506.5,562.4C508.9,562.6 511.4,564.0 513.9,563.9C516.4,563.8 518.8,562.1 521.2,561.7C523.6,561.3 526.3,561.1 528.5,561.7C530.7,562.3 532.3,564.3 534.3,565.3C536.2,566.3 538.5,567.5 540.2,567.5C541.9,567.5 543.2,566.5 544.6,565.3C546.0,564.1 547.5,560.8 548.9,560.2C550.3,559.6 551.6,561.1 553.3,561.7C555.0,562.3 558.0,563.5 558.9,563.9L558.9,580.9C558.0,580.5 555.0,579.3 553.3,578.7C551.6,578.1 550.3,576.6 548.9,577.2C547.5,577.8 546.0,581.1 544.6,582.3C543.2,583.5 541.9,584.5 540.2,584.5C538.5,584.5 536.2,583.3 534.3,582.3C532.3,581.3 530.7,579.3 528.5,578.7C526.3,578.1 523.6,578.3 521.2,578.7C518.8,579.1 516.4,580.8 513.9,580.9C511.4,581.0 508.9,579.6 506.5,579.4C504.1,579.2 501.4,579.2 499.2,579.8C497.0,580.4 495.3,582.3 493.4,583.1C491.4,583.9 489.4,585.2 487.5,584.5C485.6,583.8 483.8,580.8 481.7,578.7C479.6,576.6 477.3,572.8 475.0,571.9C472.7,571.0 469.9,572.8 467.7,573.4C465.5,574.0 463.8,575.6 461.9,575.5C459.9,575.4 457.9,572.6 456.0,572.6C454.1,572.6 452.1,573.7 450.2,575.5C448.2,577.3 446.2,580.3 444.3,583.6C442.4,586.9 440.4,591.9 438.5,595.3C436.6,598.7 434.8,601.7 432.6,604.1C430.4,606.5 427.7,608.3 425.3,609.9C422.9,611.5 420.7,612.4 418.0,613.6C415.3,614.8 412.0,616.2 409.2,617.2C406.4,618.2 404.0,619.3 401.2,619.4C398.4,619.5 394.9,618.8 392.3,618.0C389.7,617.2 387.7,616.1 385.3,614.5C382.9,612.9 380.6,610.6 378.2,608.3C375.8,605.9 373.1,602.1 371.2,600.4C369.3,598.7 368.6,598.4 366.8,598.3C365.1,598.1 362.3,599.7 360.7,599.5C359.1,599.3 358.4,599.4 357.2,596.9C356.0,594.4 354.7,591.6 353.7,584.6C352.7,577.6 351.8,564.1 351.1,554.8C350.4,545.4 349.9,535.8 349.3,528.5C348.7,521.2 348.1,517.2 347.5,511.1C346.9,505.0 346.2,498.1 345.5,491.8C344.8,485.6 344.2,479.2 343.5,473.6C342.8,468.1 342.2,462.7 341.5,458.5C340.8,454.3 340.2,450.8 339.5,448.5C338.8,446.2 338.2,445.0 337.5,445.0C336.8,445.0 336.2,446.2 335.5,448.5C334.8,450.8 334.2,454.3 333.5,458.5C332.8,462.7 332.2,468.1 331.5,473.6C330.8,479.2 330.2,485.6 329.5,491.8C328.8,498.1 328.1,505.0 327.5,511.1C326.9,517.2 326.8,519.8 325.6,528.5C324.4,537.2 322.0,554.8 320.4,563.6C318.8,572.4 317.8,577.2 316.0,581.1C314.2,585.0 311.7,585.2 309.8,587.3C307.9,589.3 306.4,591.8 304.6,593.4C302.9,595.0 301.1,596.5 299.3,596.9C297.5,597.3 296.1,596.6 294.0,596.0C291.9,595.4 289.3,594.1 287.0,593.4C284.7,592.7 281.2,592.0 280.0,591.7Z" fill="#f08a50" fill-opacity="0.32"/>
<path d="M280.0,572.6C281.2,572.5 284.4,572.2 287.0,571.8C289.6,571.4 293.2,570.0 295.8,570.0C298.4,570.0 300.5,571.2 302.8,571.8C305.1,572.4 307.8,573.8 309.8,573.5C311.8,573.2 313.4,572.8 315.0,570.0C316.6,567.2 318.0,563.5 319.5,556.9C321.0,550.3 322.7,537.8 323.9,530.5C325.1,523.2 325.7,519.3 326.5,513.0C327.3,506.7 328.1,499.4 328.8,492.9C329.5,486.4 330.1,480.3 330.8,474.2C331.5,468.1 332.1,461.8 332.8,456.3C333.5,450.9 334.1,445.7 334.8,441.6C335.5,437.4 336.1,434.0 336.8,431.7C337.5,429.4 338.1,428.2 338.8,427.9C339.5,427.6 340.1,428.5 340.8,430.1C341.5,431.7 342.1,434.4 342.8,437.5C343.5,440.7 344.1,444.9 344.8,449.3C345.5,453.7 345.6,457.5 346.8,464.0C348.0,470.4 350.6,482.8 352.0,488.0C353.4,493.1 354.2,493.2 355.5,494.9C356.8,496.7 358.2,498.4 359.8,498.4C361.4,498.4 362.9,496.5 365.0,494.8C367.1,493.1 370.1,488.9 372.1,488.2C374.1,487.5 375.4,488.9 377.0,490.8C378.6,492.7 380.4,496.5 381.8,499.3C383.2,502.1 384.2,503.6 385.5,507.8C386.8,512.0 388.2,518.6 389.6,524.3C391.0,530.0 392.7,537.9 394.0,541.9C395.3,545.9 396.2,547.9 397.5,548.2C398.8,548.5 399.9,546.7 401.9,543.8C403.8,540.9 406.6,533.9 409.2,530.7C411.8,527.5 414.9,524.5 417.3,524.5C419.8,524.5 421.6,528.3 423.9,530.7C426.2,533.1 428.6,536.7 431.2,538.7C433.8,540.7 436.9,542.3 439.2,542.6C441.5,542.8 443.3,542.4 445.1,540.2C446.9,538.0 448.4,533.9 450.2,529.2C452.0,524.4 454.4,515.2 456.0,511.7C457.6,508.2 458.2,508.1 459.7,508.0C461.2,507.9 463.0,509.6 464.8,510.9C466.6,512.2 468.8,516.1 470.6,516.0C472.4,515.9 473.7,511.4 475.8,510.2C477.9,509.0 481.0,508.0 483.2,509.0C485.4,510.0 486.8,513.1 489.0,516.0C491.2,518.9 493.6,523.1 496.3,526.3C499.0,529.5 502.4,534.3 505.1,535.0C507.8,535.7 510.0,532.2 512.4,530.7C514.8,529.2 517.3,526.8 519.7,526.0C522.1,525.2 524.8,525.0 527.0,526.0C529.2,527.0 530.7,529.6 532.9,532.1C535.1,534.6 538.0,538.3 540.2,540.9C542.4,543.5 544.4,546.2 546.0,547.5C547.6,548.8 548.4,549.1 549.7,548.9C551.1,548.6 552.6,547.3 554.1,546.0C555.6,544.7 558.1,541.8 558.9,540.9L558.9,567.3C558.1,568.2 555.6,571.1 554.1,572.4C552.6,573.7 551.1,575.1 549.7,575.3C548.4,575.6 547.6,575.2 546.0,573.9C544.4,572.6 542.4,569.9 540.2,567.3C538.0,564.7 535.1,561.0 532.9,558.5C530.7,556.0 529.2,553.4 527.0,552.4C524.8,551.4 522.1,551.6 519.7,552.4C517.3,553.2 514.8,555.6 512.4,557.1C510.0,558.6 507.8,562.1 505.1,561.4C502.4,560.7 499.0,555.9 496.3,552.7C493.6,549.5 491.2,545.3 489.0,542.4C486.8,539.5 485.4,536.4 483.2,535.4C481.0,534.4 477.9,535.4 475.8,536.6C473.7,537.8 472.4,542.3 470.6,542.4C468.8,542.5 466.6,538.6 464.8,537.3C463.0,536.0 461.2,534.3 459.7,534.4C458.2,534.5 457.6,534.6 456.0,538.1C454.4,541.6 452.0,550.9 450.2,555.6C448.4,560.4 446.9,564.4 445.1,566.6C443.3,568.8 441.5,569.2 439.2,569.0C436.9,568.8 433.8,567.1 431.2,565.1C428.6,563.1 426.2,559.5 423.9,557.1C421.6,554.7 419.8,550.9 417.3,550.9C414.9,550.9 411.8,553.9 409.2,557.1C406.6,560.3 403.8,567.3 401.9,570.2C399.9,573.1 398.8,574.9 397.5,574.6C396.2,574.3 395.3,572.3 394.0,568.3C392.7,564.3 391.0,556.4 389.6,550.7C388.2,545.0 386.8,538.4 385.5,534.2C384.2,530.0 383.2,528.5 381.8,525.7C380.4,522.9 378.6,519.1 377.0,517.2C375.4,515.4 374.1,513.9 372.1,514.6C370.1,515.3 367.1,519.5 365.0,521.2C362.9,522.9 361.4,524.8 359.8,524.8C358.2,524.8 356.8,523.1 355.5,521.1C354.2,519.0 353.4,518.3 352.0,512.4C350.6,506.6 348.0,493.0 346.8,486.0C345.6,479.0 345.5,475.1 344.8,470.3C344.1,465.6 343.5,461.2 342.8,457.7C342.1,454.1 341.5,451.2 340.8,449.3C340.1,447.3 339.5,446.2 338.8,446.1C338.1,446.0 337.5,447.0 336.8,448.9C336.1,450.9 335.5,454.1 334.8,457.8C334.1,461.6 333.5,466.5 332.8,471.7C332.1,476.8 331.5,482.7 330.8,488.6C330.1,494.5 329.5,500.5 328.8,506.9C328.1,513.3 327.3,520.7 326.5,527.0C325.7,533.3 325.1,537.2 323.9,544.5C322.7,551.8 321.0,564.3 319.5,570.9C318.0,577.5 316.6,581.2 315.0,584.0C313.4,586.8 311.8,587.2 309.8,587.5C307.8,587.8 305.1,586.4 302.8,585.8C300.5,585.2 298.4,584.0 295.8,584.0C293.2,584.0 289.6,585.4 287.0,585.8C284.4,586.2 281.2,586.5 280.0,586.6Z" fill="#f8c870" fill-opacity="0.36"/>
<path d="M280.0,581.8C281.2,582.1 284.7,582.6 287.0,583.5C289.3,584.4 291.7,586.1 294.0,587.1C296.3,588.1 298.9,589.7 301.0,589.7C303.1,589.7 304.4,588.7 306.3,587.1C308.2,585.5 310.4,581.9 312.5,580.0C314.6,578.1 316.4,576.9 318.6,575.7C320.8,574.5 323.3,573.7 325.6,573.0C327.9,572.3 330.1,571.4 332.6,571.3C335.1,571.1 338.1,572.8 340.5,572.1C342.9,571.4 344.5,569.8 346.7,566.9C348.9,564.0 351.4,559.3 353.7,554.6C355.9,549.9 358.5,543.4 360.2,538.5C361.9,533.6 362.8,529.7 364.0,525.5C365.2,521.3 366.4,517.1 367.6,513.4C368.8,509.7 370.0,506.4 371.0,503.5C372.0,500.6 372.9,498.3 373.8,496.0C374.7,493.7 375.6,491.2 376.5,489.7C377.4,488.2 378.3,487.0 379.2,486.8C380.1,486.6 381.2,487.5 382.0,488.5C382.8,489.5 382.9,489.7 384.0,492.8C385.1,495.9 387.0,501.1 388.8,507.1C390.6,513.1 392.7,521.7 394.6,529.0C396.6,536.3 398.6,544.4 400.5,551.0C402.4,557.6 404.4,563.9 406.3,568.5C408.2,573.1 410.2,576.5 412.2,578.8C414.1,581.0 416.1,582.0 418.0,582.0C419.9,582.0 421.7,579.9 423.9,578.8C426.1,577.6 428.8,576.6 431.2,575.1C433.6,573.6 436.3,573.0 438.5,570.0C440.7,567.0 442.5,560.7 444.3,556.8C446.1,552.9 447.9,548.6 449.4,546.6C450.9,544.6 451.8,544.5 453.1,544.8C454.5,545.0 455.9,546.2 457.5,548.1C459.1,550.0 460.9,554.2 462.6,556.1C464.3,558.0 465.6,558.8 467.7,559.8C469.8,560.8 472.4,561.2 475.0,561.9C477.6,562.6 480.6,563.5 483.2,564.1C485.8,564.7 488.3,565.2 490.5,565.6C492.7,566.0 494.7,566.4 496.3,566.3C497.9,566.2 498.5,564.4 500.0,564.9C501.5,565.4 503.0,568.3 505.1,569.3C507.2,570.3 510.2,571.6 512.4,570.7C514.6,569.8 516.0,566.2 518.2,564.1C520.4,562.0 523.4,560.1 525.6,558.3C527.8,556.5 529.5,554.4 531.4,553.2C533.3,552.0 535.6,550.6 537.3,551.0C539.0,551.4 539.9,553.4 541.6,555.4C543.3,557.4 545.8,561.1 547.5,562.7C549.2,564.3 550.4,564.9 551.9,564.9C553.4,564.9 555.1,563.3 556.3,562.7C557.5,562.1 558.5,561.5 558.9,561.2L558.9,576.2C558.5,576.5 557.5,577.1 556.3,577.7C555.1,578.3 553.4,579.9 551.9,579.9C550.4,579.9 549.2,579.3 547.5,577.7C545.8,576.1 543.3,572.4 541.6,570.4C539.9,568.4 539.0,566.4 537.3,566.0C535.6,565.6 533.3,567.0 531.4,568.2C529.5,569.4 527.8,571.5 525.6,573.3C523.4,575.1 520.4,577.0 518.2,579.1C516.0,581.2 514.6,584.8 512.4,585.7C510.2,586.6 507.2,585.3 505.1,584.3C503.0,583.3 501.5,580.4 500.0,579.9C498.5,579.4 497.9,581.2 496.3,581.3C494.7,581.4 492.7,581.0 490.5,580.6C488.3,580.2 485.8,579.7 483.2,579.1C480.6,578.5 477.6,577.6 475.0,576.9C472.4,576.2 469.8,575.8 467.7,574.8C465.6,573.8 464.3,573.0 462.6,571.1C460.9,569.2 459.1,565.0 457.5,563.1C455.9,561.2 454.5,560.0 453.1,559.8C451.8,559.5 450.9,559.6 449.4,561.6C447.9,563.6 446.1,567.9 444.3,571.8C442.5,575.7 440.7,582.0 438.5,585.0C436.3,588.0 433.6,588.6 431.2,590.1C428.8,591.6 426.1,592.6 423.9,593.8C421.7,594.9 419.9,597.0 418.0,597.0C416.1,597.0 414.1,596.0 412.2,593.8C410.2,591.5 408.2,588.1 406.3,583.5C404.4,578.9 402.4,572.6 400.5,566.0C398.6,559.4 396.6,551.3 394.6,544.0C392.7,536.7 390.6,528.1 388.8,522.1C387.0,516.1 385.1,510.9 384.0,507.8C382.9,504.7 382.8,504.5 382.0,503.5C381.2,502.5 380.1,501.6 379.2,501.8C378.3,502.0 377.4,503.2 376.5,504.7C375.6,506.2 374.7,508.7 373.8,511.0C372.9,513.3 372.0,515.6 371.0,518.5C370.0,521.4 368.8,524.7 367.6,528.4C366.4,532.1 365.2,536.3 364.0,540.5C362.8,544.7 361.9,548.6 360.2,553.5C358.5,558.4 355.9,564.9 353.7,569.6C351.4,574.3 348.9,579.0 346.7,581.9C344.5,584.8 342.9,586.4 340.5,587.1C338.1,587.8 335.1,586.1 332.6,586.3C330.1,586.4 327.9,587.3 325.6,588.0C323.3,588.7 320.8,589.5 318.6,590.7C316.4,591.9 314.6,593.1 312.5,595.0C310.4,596.9 308.2,600.5 306.3,602.1C304.4,603.7 303.1,604.7 301.0,604.7C298.9,604.7 296.3,603.1 294.0,602.1C291.7,601.1 289.3,599.4 287.0,598.5C284.7,597.6 281.2,597.1 280.0,596.8Z" fill="#a8e070" fill-opacity="0.3"/>
<path d="M280.0,583.2C281.2,583.5 284.7,584.2 287.0,584.9C289.3,585.6 291.9,586.9 294.0,587.5C296.1,588.1 297.5,588.8 299.3,588.4C301.1,588.0 302.9,586.5 304.6,584.9C306.4,583.3 307.9,580.8 309.8,578.8C311.7,576.8 314.2,576.5 316.0,572.6C317.8,568.7 318.8,563.9 320.4,555.1C322.0,546.3 324.4,528.8 325.6,520.0C326.8,511.2 326.9,508.7 327.5,502.6C328.1,496.5 328.8,489.6 329.5,483.3C330.2,477.1 330.8,470.7 331.5,465.1C332.2,459.6 332.8,454.2 333.5,450.0C334.2,445.8 334.8,442.2 335.5,440.0C336.2,437.8 336.8,436.5 337.5,436.5C338.2,436.5 338.8,437.8 339.5,440.0C340.2,442.2 340.8,445.8 341.5,450.0C342.2,454.2 342.8,459.6 343.5,465.1C344.2,470.7 344.8,477.1 345.5,483.3C346.2,489.6 346.9,496.5 347.5,502.6C348.1,508.7 348.7,512.7 349.3,520.0C349.9,527.3 350.4,536.9 351.1,546.3C351.8,555.6 352.7,569.1 353.7,576.1C354.7,583.1 356.0,585.9 357.2,588.4C358.4,590.9 359.1,590.8 360.7,591.0C362.3,591.2 365.1,589.6 366.8,589.8C368.6,589.9 369.3,590.2 371.2,591.9C373.1,593.6 375.8,597.4 378.2,599.8C380.6,602.1 382.9,604.4 385.3,606.0C387.7,607.6 389.7,608.7 392.3,609.5C394.9,610.3 398.4,611.0 401.2,610.9C404.0,610.8 406.4,609.7 409.2,608.7C412.0,607.7 415.3,606.3 418.0,605.1C420.7,603.9 422.9,603.0 425.3,601.4C427.7,599.8 430.4,598.0 432.6,595.6C434.8,593.2 436.6,590.2 438.5,586.8C440.4,583.4 442.4,578.4 444.3,575.1C446.2,571.8 448.2,568.8 450.2,567.0C452.1,565.2 454.1,564.1 456.0,564.1C457.9,564.1 459.9,566.9 461.9,567.0C463.8,567.1 465.5,565.5 467.7,564.9C469.9,564.3 472.7,562.5 475.0,563.4C477.3,564.3 479.6,568.1 481.7,570.2C483.8,572.3 485.6,575.3 487.5,576.0C489.4,576.7 491.4,575.4 493.4,574.6C495.3,573.8 497.0,571.9 499.2,571.3C501.4,570.7 504.1,570.7 506.5,570.9C508.9,571.1 511.4,572.5 513.9,572.4C516.4,572.3 518.8,570.6 521.2,570.2C523.6,569.8 526.3,569.6 528.5,570.2C530.7,570.8 532.3,572.8 534.3,573.8C536.2,574.8 538.5,576.0 540.2,576.0C541.9,576.0 543.2,575.0 544.6,573.8C546.0,572.6 547.5,569.3 548.9,568.7C550.3,568.1 551.6,569.6 553.3,570.2C555.0,570.8 558.0,572.0 558.9,572.4" fill="none" stroke="#d8480f" stroke-width="2.6" stroke-linejoin="round"/>
<path d="M280.0,579.6C281.2,579.5 284.4,579.2 287.0,578.8C289.6,578.4 293.2,577.0 295.8,577.0C298.4,577.0 300.5,578.2 302.8,578.8C305.1,579.4 307.8,580.8 309.8,580.5C311.8,580.2 313.4,579.8 315.0,577.0C316.6,574.2 318.0,570.5 319.5,563.9C321.0,557.3 322.7,544.8 323.9,537.5C325.1,530.2 325.7,526.3 326.5,520.0C327.3,513.7 328.1,506.3 328.8,499.9C329.5,493.5 330.1,487.4 330.8,481.4C331.5,475.4 332.1,469.3 332.8,464.0C333.5,458.7 334.1,453.6 334.8,449.7C335.5,445.8 336.1,442.4 336.8,440.3C337.5,438.2 338.1,437.1 338.8,437.0C339.5,436.9 340.1,437.9 340.8,439.7C341.5,441.5 342.1,444.2 342.8,447.6C343.5,451.0 344.1,455.2 344.8,459.8C345.5,464.4 345.6,468.3 346.8,475.0C348.0,481.7 350.6,494.7 352.0,500.2C353.4,505.7 354.2,506.1 355.5,508.0C356.8,509.9 358.2,511.6 359.8,511.6C361.4,511.6 362.9,509.7 365.0,508.0C367.1,506.3 370.1,502.1 372.1,501.4C374.1,500.7 375.4,502.1 377.0,504.0C378.6,505.9 380.4,509.7 381.8,512.5C383.2,515.3 384.2,516.8 385.5,521.0C386.8,525.2 388.2,531.8 389.6,537.5C391.0,543.2 392.7,551.1 394.0,555.1C395.3,559.1 396.2,561.1 397.5,561.4C398.8,561.7 399.9,559.9 401.9,557.0C403.8,554.1 406.6,547.1 409.2,543.9C411.8,540.7 414.9,537.7 417.3,537.7C419.8,537.7 421.6,541.5 423.9,543.9C426.2,546.3 428.6,549.9 431.2,551.9C433.8,553.9 436.9,555.5 439.2,555.8C441.5,556.0 443.3,555.6 445.1,553.4C446.9,551.2 448.4,547.1 450.2,542.4C452.0,537.6 454.4,528.4 456.0,524.9C457.6,521.4 458.2,521.3 459.7,521.2C461.2,521.1 463.0,522.8 464.8,524.1C466.6,525.4 468.8,529.3 470.6,529.2C472.4,529.1 473.7,524.6 475.8,523.4C477.9,522.2 481.0,521.2 483.2,522.2C485.4,523.2 486.8,526.3 489.0,529.2C491.2,532.1 493.6,536.3 496.3,539.5C499.0,542.7 502.4,547.5 505.1,548.2C507.8,548.9 510.0,545.4 512.4,543.9C514.8,542.4 517.3,540.0 519.7,539.2C522.1,538.4 524.8,538.2 527.0,539.2C529.2,540.2 530.7,542.8 532.9,545.3C535.1,547.8 538.0,551.5 540.2,554.1C542.4,556.7 544.4,559.4 546.0,560.7C547.6,562.0 548.4,562.4 549.7,562.1C551.1,561.9 552.6,560.5 554.1,559.2C555.6,557.9 558.1,555.0 558.9,554.1" fill="none" stroke="#f0ae06" stroke-width="3.2" stroke-linejoin="round"/>
<path d="M280.0,589.3C281.2,589.6 284.7,590.1 287.0,591.0C289.3,591.9 291.7,593.6 294.0,594.6C296.3,595.6 298.9,597.2 301.0,597.2C303.1,597.2 304.4,596.2 306.3,594.6C308.2,593.0 310.4,589.4 312.5,587.5C314.6,585.6 316.4,584.4 318.6,583.2C320.8,582.0 323.3,581.2 325.6,580.5C327.9,579.8 330.1,578.9 332.6,578.8C335.1,578.6 338.1,580.3 340.5,579.6C342.9,578.9 344.5,577.3 346.7,574.4C348.9,571.5 351.4,566.8 353.7,562.1C355.9,557.4 358.5,550.9 360.2,546.0C361.9,541.1 362.8,537.2 364.0,533.0C365.2,528.8 366.4,524.6 367.6,520.9C368.8,517.2 370.0,513.9 371.0,511.0C372.0,508.1 372.9,505.8 373.8,503.5C374.7,501.2 375.6,498.7 376.5,497.2C377.4,495.7 378.3,494.5 379.2,494.3C380.1,494.1 381.2,495.0 382.0,496.0C382.8,497.0 382.9,497.2 384.0,500.3C385.1,503.4 387.0,508.6 388.8,514.6C390.6,520.6 392.7,529.2 394.6,536.5C396.6,543.8 398.6,551.9 400.5,558.5C402.4,565.1 404.4,571.4 406.3,576.0C408.2,580.6 410.2,584.0 412.2,586.3C414.1,588.5 416.1,589.5 418.0,589.5C419.9,589.5 421.7,587.4 423.9,586.3C426.1,585.1 428.8,584.1 431.2,582.6C433.6,581.1 436.3,580.5 438.5,577.5C440.7,574.5 442.5,568.2 444.3,564.3C446.1,560.4 447.9,556.1 449.4,554.1C450.9,552.1 451.8,552.0 453.1,552.3C454.5,552.5 455.9,553.7 457.5,555.6C459.1,557.5 460.9,561.7 462.6,563.6C464.3,565.5 465.6,566.3 467.7,567.3C469.8,568.3 472.4,568.7 475.0,569.4C477.6,570.1 480.6,571.0 483.2,571.6C485.8,572.2 488.3,572.7 490.5,573.1C492.7,573.5 494.7,573.9 496.3,573.8C497.9,573.7 498.5,571.9 500.0,572.4C501.5,572.9 503.0,575.8 505.1,576.8C507.2,577.8 510.2,579.1 512.4,578.2C514.6,577.3 516.0,573.7 518.2,571.6C520.4,569.5 523.4,567.6 525.6,565.8C527.8,564.0 529.5,561.9 531.4,560.7C533.3,559.5 535.6,558.1 537.3,558.5C539.0,558.9 539.9,560.9 541.6,562.9C543.3,564.9 545.8,568.6 547.5,570.2C549.2,571.8 550.4,572.4 551.9,572.4C553.4,572.4 555.1,570.8 556.3,570.2C557.5,569.6 558.5,569.0 558.9,568.7" fill="none" stroke="#6cc60c" stroke-width="3.2" stroke-linejoin="round"/>
<path d="M280.0,588.4C281.5,588.5 286.3,589.0 288.8,589.3C291.3,589.6 293.0,589.8 295.0,590.2C297.0,590.6 298.5,591.7 301.0,591.9C303.5,592.1 307.5,592.3 309.8,591.6C312.1,590.9 313.4,590.7 315.0,587.5C316.6,584.3 318.0,579.5 319.5,572.6C321.0,565.7 322.6,555.1 323.9,546.3C325.2,537.5 326.5,528.0 327.4,520.0C328.3,512.0 328.8,505.4 329.5,498.2C330.2,491.0 330.8,483.3 331.5,476.6C332.2,469.9 332.8,463.2 333.5,458.0C334.2,452.8 334.8,448.2 335.5,445.4C336.2,442.6 336.8,441.0 337.5,441.0C338.2,441.0 338.8,442.6 339.5,445.4C340.2,448.2 340.8,452.6 341.5,457.7C342.2,462.8 342.8,469.5 343.5,476.1C344.2,482.7 344.8,490.1 345.5,497.4C346.2,504.7 346.7,511.9 347.5,520.0C348.3,528.1 349.3,538.1 350.2,546.3C351.1,554.5 351.9,563.7 352.8,569.1C353.7,574.5 354.5,576.6 355.4,578.8C356.3,581.0 356.9,582.4 358.4,582.3C359.9,582.1 362.1,581.0 364.2,577.9C366.3,574.8 369.0,567.4 371.2,563.9C373.4,560.4 375.5,556.8 377.4,556.8C379.3,556.8 380.7,559.5 382.6,563.9C384.5,568.3 387.0,578.2 388.8,583.2C390.6,588.2 391.8,591.3 393.2,593.6C394.6,595.9 395.8,597.0 397.5,597.2C399.2,597.4 400.9,596.6 403.4,595.0C405.8,593.4 409.6,589.5 412.2,587.7C414.8,585.9 416.5,584.8 418.7,584.1C420.9,583.5 423.2,584.0 425.3,583.8C427.4,583.5 429.0,583.6 431.2,582.6C433.4,581.6 436.1,579.3 438.5,577.5C440.9,575.7 443.4,574.0 445.8,571.6C448.2,569.2 450.7,565.7 453.1,562.9C455.5,560.1 458.0,556.3 460.4,554.8C462.8,553.3 465.4,554.3 467.7,554.1C470.0,553.9 472.4,553.8 474.4,553.4C476.4,553.0 477.8,551.7 479.5,551.9C481.2,552.1 482.8,553.3 484.6,554.8C486.4,556.3 488.6,559.2 490.5,560.7C492.4,562.2 494.4,563.9 496.3,564.0C498.2,564.1 500.4,563.0 502.2,561.4C504.0,559.8 505.7,555.8 507.3,554.1C508.9,552.4 510.1,551.2 511.7,551.2C513.3,551.2 515.0,552.2 516.8,554.1C518.6,556.0 520.6,560.6 522.6,562.9C524.6,565.2 526.5,566.9 528.5,568.0C530.5,569.1 532.5,570.0 534.3,569.4C536.1,568.8 537.7,564.9 539.4,564.3C541.1,563.6 542.9,564.6 544.6,565.5C546.3,566.4 548.2,568.5 549.7,569.4C551.2,570.3 551.8,571.5 553.3,570.9C554.8,570.3 558.0,566.6 558.9,565.8" fill="none" stroke="#2f74c0" stroke-width="2" stroke-linejoin="round"/>
<rect x="280" y="615.8" width="76.8" height="3.5" fill="#c89a6c"/>
<rect x="356.8" y="615.8" width="202.4" height="3.5" fill="#5b4a42"/>
<text x="320.5" y="630.2" font-size="10.75" text-anchor="middle" font-weight="normal" fill="#0d0d0d" >Transient</text>
<text x="408.8" y="629.8" font-size="10.75" text-anchor="middle" font-weight="normal" fill="#0d0d0d" >Sustained</text>
<line x1="280.05" x2="280.05" y1="406.4" y2="638.1" stroke="#1e1e1e" stroke-width="1.7"/>
<line x1="279.2" x2="559.6" y1="637.3" y2="637.3" stroke="#1e1e1e" stroke-width="1.7"/>
<line x1="280.1" x2="284.2" y1="407.0" y2="407.0" stroke="#1e1e1e" stroke-width="1.4"/>
<line x1="280.1" x2="284.2" y1="464.9" y2="464.9" stroke="#1e1e1e" stroke-width="1.4"/>
<line x1="280.1" x2="284.2" y1="493.9" y2="493.9" stroke="#1e1e1e" stroke-width="1.4"/>
<line x1="280.1" x2="284.2" y1="522.8" y2="522.8" stroke="#1e1e1e" stroke-width="1.4"/>
<line x1="280.1" x2="284.2" y1="551.8" y2="551.8" stroke="#1e1e1e" stroke-width="1.4"/>
<line x1="280.1" x2="284.2" y1="580.7" y2="580.7" stroke="#1e1e1e" stroke-width="1.4"/>
<line x1="280.1" x2="284.2" y1="609.7" y2="609.7" stroke="#1e1e1e" stroke-width="1.4"/>
<line x1="326.4" x2="326.4" y1="637.3" y2="633.6" stroke="#1e1e1e" stroke-width="1.4"/>
<line x1="372.9" x2="372.9" y1="637.3" y2="633.6" stroke="#1e1e1e" stroke-width="1.4"/>
<line x1="419.4" x2="419.4" y1="637.3" y2="633.6" stroke="#1e1e1e" stroke-width="1.4"/>
<line x1="465.9" x2="465.9" y1="637.3" y2="633.6" stroke="#1e1e1e" stroke-width="1.4"/>
<line x1="512.4" x2="512.4" y1="637.3" y2="633.6" stroke="#1e1e1e" stroke-width="1.4"/>
<line x1="558.9" x2="558.9" y1="637.3" y2="633.6" stroke="#1e1e1e" stroke-width="1.4"/>
<text x="273.9" y="411.30000000000007" font-size="12.1" text-anchor="end" font-weight="normal" fill="#0d0d0d" >1.2</text>
<text x="273.9" y="469.20000000000005" font-size="12.1" text-anchor="end" font-weight="normal" fill="#0d0d0d" >0.8</text>
<text x="273.9" y="527.1" font-size="12.1" text-anchor="end" font-weight="normal" fill="#0d0d0d" >0.4</text>
<text x="273.9" y="585.0" font-size="12.1" text-anchor="end" font-weight="normal" fill="#0d0d0d" >0</text>
<text x="273.9" y="643.1999999999999" font-size="12.1" text-anchor="end" font-weight="normal" fill="#0d0d0d" >-0.4</text>
<text x="278.8" y="656.6" font-size="12.1" text-anchor="middle" font-weight="normal" fill="#0d0d0d" >0</text>
<text x="327.2" y="656.6" font-size="12.1" text-anchor="middle" font-weight="normal" fill="#0d0d0d" >50</text>
<text x="376.1" y="656.6" font-size="12.1" text-anchor="middle" font-weight="normal" fill="#0d0d0d" >100</text>
<text x="422.6" y="656.6" font-size="12.1" text-anchor="middle" font-weight="normal" fill="#0d0d0d" >150</text>
<text x="468.9" y="656.6" font-size="12.1" text-anchor="middle" font-weight="normal" fill="#0d0d0d" >200</text>
<text x="515" y="656.6" font-size="12.1" text-anchor="middle" font-weight="normal" fill="#0d0d0d" >250</text>
<text x="561.5" y="656.6" font-size="12.1" text-anchor="middle" font-weight="normal" fill="#0d0d0d" >300</text>
<text x="405.8" y="681.6" font-size="11.8" text-anchor="middle" font-weight="normal" fill="#0d0d0d" >Time (ms)</text>
<text transform="translate(234.8,525.9) rotate(-90)" font-size="11.8" text-anchor="middle" fill="#1a1a1a">MUA Response</text>
<line x1="467.5" x2="488.2" y1="413.1" y2="413.1" stroke="#2f74c0" stroke-width="2.5"/>
<text x="494.4" y="419.6" font-size="12.5" text-anchor="start" font-weight="normal" fill="#0d0d0d" >Figure</text>
<line x1="467.5" x2="488.2" y1="426.9" y2="426.9" stroke="#d8480f" stroke-width="2.5"/>
<text x="494.4" y="431.90000000000003" font-size="12.5" text-anchor="start" font-weight="normal" fill="#0d0d0d" >Ground</text>
<line x1="467.5" x2="488.2" y1="440.6" y2="440.6" stroke="#f0ae06" stroke-width="2.5"/>
<text x="494.4" y="445.1" font-size="12.5" text-anchor="start" font-weight="normal" fill="#0d0d0d" >Edge</text>
<line x1="467.5" x2="488.2" y1="453.2" y2="453.2" stroke="#6cc60c" stroke-width="2.5"/>
<text x="494.4" y="458.8" font-size="12.5" text-anchor="start" font-weight="normal" fill="#0d0d0d" >Hole</text>
<rect x="585.2" y="384.1" width="97.8" height="55.5" fill="url(#pV1)"/>
<circle cx="609.8" cy="412.4" r="19.8" fill="url(#pH1)"/>
<circle cx="610.2" cy="412.6" r="8.5" fill="none" stroke="#2f74c0" stroke-width="1.6"/>
<rect x="585.3" y="447.9" width="97.7" height="55.2" fill="url(#pH2)"/>
<circle cx="659.1" cy="475.6" r="19.6" fill="url(#pV2)"/>
<circle cx="609.2" cy="475.8" r="8.5" fill="none" stroke="#d8480f" stroke-width="1.6"/>
<rect x="584.8" y="513.3" width="98.2" height="55.3" fill="url(#pV3)"/>
<circle cx="627.5" cy="541" r="20" fill="url(#pH3)"/>
<circle cx="607.6" cy="540.4" r="8.5" fill="none" stroke="#f0ae06" stroke-width="1.6"/>
<rect x="584.3" y="580.1" width="98.7" height="56.1" fill="url(#pH4)"/>
<circle cx="609.1" cy="608.5" r="18.6" fill="#6e6b6a"/>
<circle cx="609.1" cy="608.4" r="8.7" fill="none" stroke="#6cc60c" stroke-width="1.6"/>
</svg>
</body></html>
